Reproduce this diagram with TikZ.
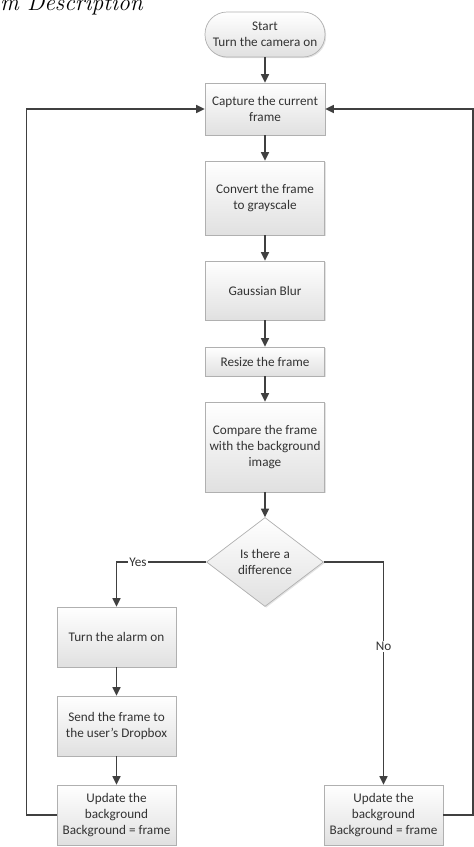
\documentclass[tikz,border=0pt]{standalone}
\usepackage{fontspec}
\setmainfont{Carlito}
\newfontfamily\titlefont{Latin Modern Roman}
\usetikzlibrary{shapes.geometric,arrows.meta,shadows}
\definecolor{txt}{HTML}{333333}
\definecolor{lin}{HTML}{404040}
\definecolor{bord}{HTML}{B0B0B0}
\tikzset{
  box/.style={draw=bord, line width=0.7pt, top color=white, bottom color=black!12,
    drop shadow={shadow xshift=1.2pt, shadow yshift=-1.2pt, opacity=0.22},
    inner sep=0pt, align=center, text=txt, font=\fontsize{13.2}{15.8}\selectfont},
  term/.style={box, rounded corners=22pt},
  dec/.style={box, shape=diamond},
  arr/.style={draw=lin, line width=1.4pt, -{Triangle[width=8pt,length=8.5pt]}},
  lbl/.style={fill=white, inner sep=1pt, text=txt, font=\fontsize{13.2}{15}\selectfont}
}
\begin{document}
\begin{tikzpicture}[x=1pt,y=-1pt]
\useasboundingbox (0,0) rectangle (474,847);
\node[anchor=base east, font=\titlefont\itshape\fontsize{23.5}{25}\selectfont, text=black, inner sep=0pt] (title) at (143,10) {System Description};
\node[term, minimum width=120pt, minimum height=45pt] (start) at (265,34.5) {Start\\Turn the camera on};
\node[box, minimum width=120pt, minimum height=52pt] (cap) at (265,109) {Capture the current\\frame};
\node[box, minimum width=119pt, minimum height=74pt] (conv) at (265,198) {Convert the frame\\to grayscale};
\node[box, minimum width=119pt, minimum height=59pt] (gauss) at (265,290.5) {Gaussian Blur};
\node[box, minimum width=119pt, minimum height=29pt] (resize) at (265,361.5) {Resize the frame};
\node[box, minimum width=119pt, minimum height=90pt] (comp) at (265,447) {Compare the frame\\with the background\\image};
\node[dec, minimum width=117pt, minimum height=89pt] (diam) at (265,562) {Is there a\\difference};
\node[box, minimum width=119pt, minimum height=60pt] (alarm) at (116.5,637) {Turn the alarm on};
\node[box, minimum width=119pt, minimum height=60pt] (send) at (116.5,726) {Send the frame to\\the user’s Dropbox};
\node[box, minimum width=119pt, minimum height=60pt] (updL) at (116.5,815) {Update the\\background\\Background = frame};
\node[box, minimum width=119pt, minimum height=60pt] (updR) at (383.5,815) {Update the\\background\\Background = frame};
\coordinate (yesc) at (116.5,562);
\coordinate (noc) at (383.5,562);
\draw[arr] (start) -- (cap);
\draw[arr] (cap) -- (conv);
\draw[arr] (conv) -- (gauss);
\draw[arr] (gauss) -- (resize);
\draw[arr] (resize) -- (comp);
\draw[arr] (comp) -- (diam);
\draw[arr] (diam.west) -- node[lbl, pos=0.76] {Yes} (yesc) -- (alarm.north);
\draw[arr] (diam.east) -- (noc) -- node[lbl, pos=0.38] {No} (updR.north);
\draw[arr] (alarm) -- (send);
\draw[arr] (send) -- (updL);
\draw[arr] (updL.west) -- ++(-30,0) |- (cap.west);
\draw[arr] (updR.east) -- ++(29.5,0) |- (cap.east);
\end{tikzpicture}
\end{document}
